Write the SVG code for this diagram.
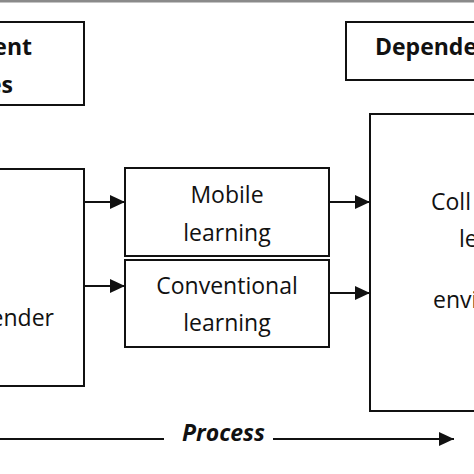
<svg xmlns="http://www.w3.org/2000/svg" width="474" height="474" viewBox="0 0 474 474">
<style>
.box{fill:#fff;stroke:#111;stroke-width:2}
.t{font-family:"Open Sans","Liberation Sans",sans-serif;font-size:23px;fill:#111}
.b{font-weight:bold}
.c{text-anchor:middle}
.e{text-anchor:end}
.ln{stroke:#111;stroke-width:2;fill:none}
</style>
<defs>
<marker id="ah" markerUnits="userSpaceOnUse" markerWidth="16" markerHeight="16" refX="15" refY="7" orient="auto">
<path d="M0,0 L15,7 L0,14 z" fill="#111"/>
</marker>
</defs>
<rect x="0" y="0" width="474" height="474" fill="#fff"/>
<rect x="0" y="0" width="474" height="2.5" fill="#8a8a8a"/>
<g id="independent">
<rect class="box" x="-10" y="22" width="94" height="83"/>
<text class="t b e" x="32" y="55">ent</text>
<text class="t b e" x="13" y="93">es</text>
</g>
<g id="dependent">
<rect class="box" x="346" y="22" width="140" height="58"/>
<text class="t b" x="375" y="55">Depende</text>
</g>
<g id="gender">
<rect class="box" x="-10" y="169" width="94" height="217"/>
<text class="t e" x="54" y="326">ender</text>
</g>
<g id="mobile">
<rect class="box" x="125" y="168" width="204" height="88"/>
<text class="t c" x="227" y="203">Mobile</text>
<text class="t c" x="227" y="241">learning</text>
</g>
<g id="conventional">
<rect class="box" x="125" y="260" width="204" height="87"/>
<text class="t c" x="227" y="294">Conventional</text>
<text class="t c" x="227" y="331">learning</text>
</g>
<g id="collaborative">
<rect class="box" x="370" y="114" width="120" height="297"/>
<text class="t" x="431" y="210">Coll</text>
<text class="t" x="459" y="247">le</text>
<text class="t" x="433" y="308">envi</text>
</g>
<g id="connectors">
<line class="ln" x1="84" y1="202" x2="125" y2="202" marker-end="url(#ah)"/>
<line class="ln" x1="84" y1="286" x2="125" y2="286" marker-end="url(#ah)"/>
<line class="ln" x1="329" y1="202" x2="370" y2="202" marker-end="url(#ah)"/>
<line class="ln" x1="329" y1="293" x2="370" y2="293" marker-end="url(#ah)"/>
<line class="ln" x1="0" y1="439" x2="164" y2="439"/>
<line class="ln" x1="273" y1="439" x2="454" y2="439" marker-end="url(#ah)"/>
</g>
<g id="process">
<text class="t b" x="182" y="441" style="font-style:italic">Process</text>
</g>
</svg>
